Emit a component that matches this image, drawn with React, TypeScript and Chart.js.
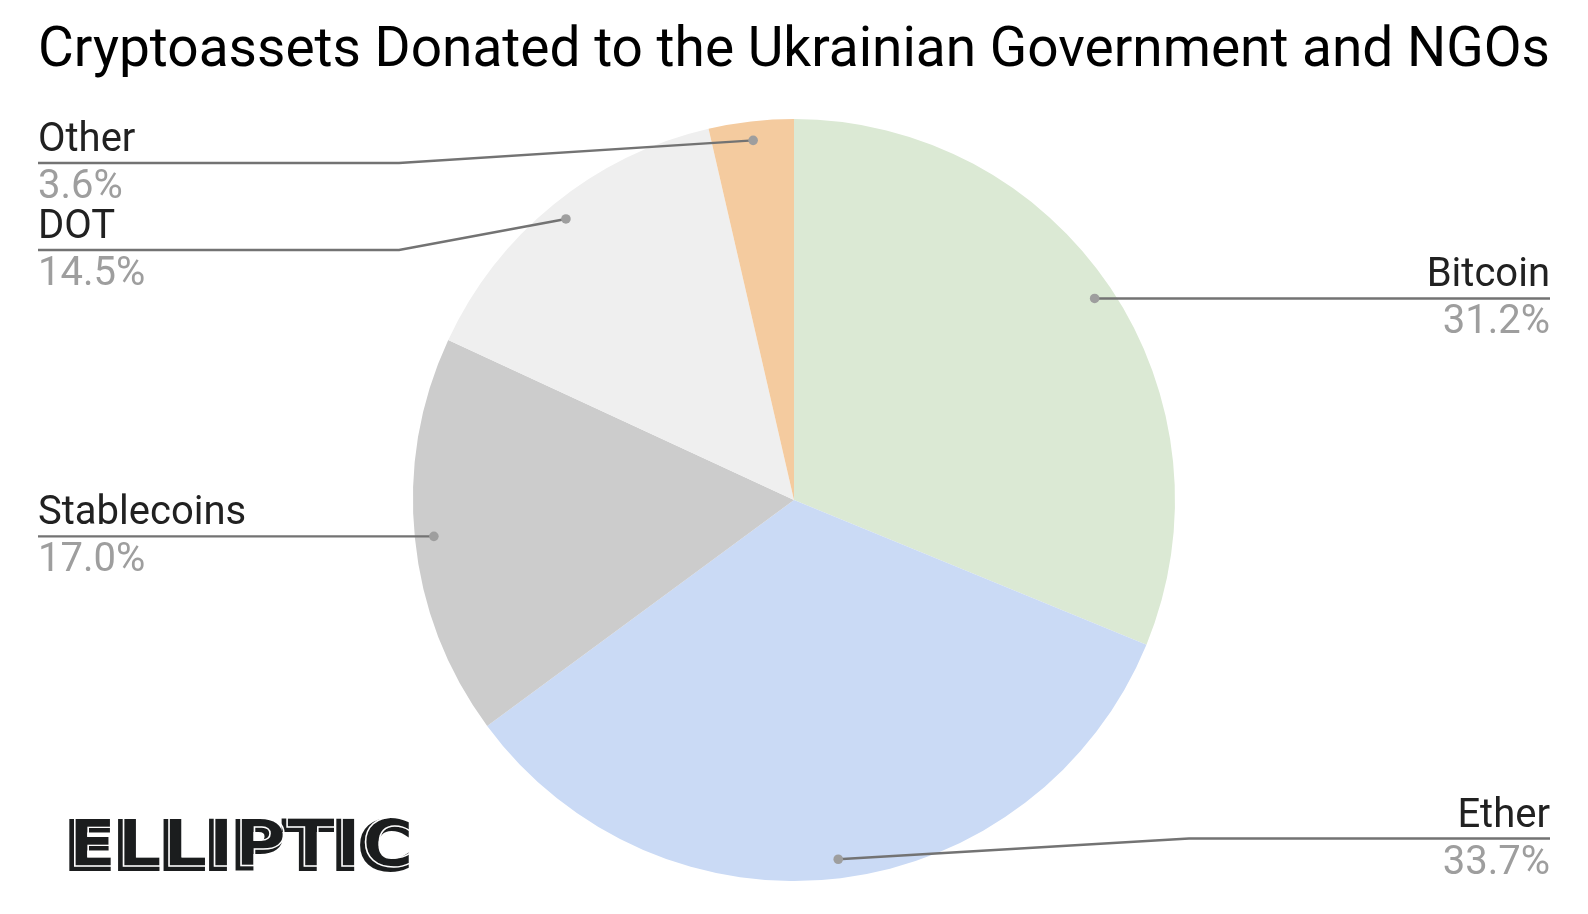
import React, { useEffect, useRef } from "react";
import { Chart, registerables } from "chart.js";

Chart.register(...registerables);

const TITLE = "Cryptoassets Donated to the Ukrainian Government and NGOs";
const categories = ["Bitcoin", "Ether", "Stablecoins", "DOT", "Other"];
const shares = [31.2, 33.7, 17.0, 14.5, 3.6];
const sliceColors = ["#dbe9d4", "#cadaf5", "#cccccc", "#efefef", "#f4cb9f"];
const LOGO = "ELLIPTIC";

const labelPlugin = {
  id: "calloutLabels",
  afterDraw(chart: any) {
    const ctx = chart.ctx as CanvasRenderingContext2D;
    const area = chart.chartArea;
    const meta = chart.getDatasetMeta(0);
    const ds = chart.data.datasets[0];

    // title
    ctx.save();
    ctx.fillStyle = "#000000";
    ctx.font = '55px Roboto';
    ctx.textAlign = "center";
    ctx.textBaseline = "alphabetic";
    ctx.fillText(TITLE, (area.left + area.right) / 2, 66);
    ctx.restore();

    type L = { i: number; dx: number; dy: number; side: number; ly: number; cx: number; r: number };
    const items: L[] = [];
    meta.data.forEach((arc: any, i: number) => {
      const p = arc.getProps(["x", "y", "startAngle", "endAngle", "outerRadius"], true);
      const mid = (p.startAngle + p.endAngle) / 2;
      const rr = p.outerRadius * 0.95;
      const dx = p.x + Math.cos(mid) * rr;
      const dy = p.y + Math.sin(mid) * rr;
      items.push({ i, dx, dy, side: Math.cos(mid) >= 0 ? 1 : -1, ly: dy, cx: p.x, r: p.outerRadius });
    });

    const minY = area.top + 44;
    const maxY = area.bottom - 42.5;
    const gap = 87;
    [1, -1].forEach((side) => {
      const list = items.filter((it) => it.side === side).sort((a, b) => a.dy - b.dy);
      let prev = -Infinity;
      list.forEach((it) => {
        let y = Math.min(Math.max(it.dy, minY), maxY);
        y = Math.max(y, prev + gap);
        it.ly = y;
        prev = y;
      });
      for (let k = list.length - 1; k >= 0; k--) {
        const lim = k === list.length - 1 ? maxY : list[k + 1].ly - gap;
        if (list[k].ly > lim) list[k].ly = lim;
      }
    });

    items.forEach((it) => {
      const elbowX = it.cx + it.side * (it.r + 14);
      const endX = it.side > 0 ? area.right : area.left;
      ctx.save();
      ctx.strokeStyle = "#737373";
      ctx.lineWidth = 2.4;
      ctx.beginPath();
      ctx.moveTo(it.dx, it.dy);
      if (Math.abs(it.ly - it.dy) > 0.5) ctx.lineTo(elbowX, it.ly);
      ctx.lineTo(endX, it.ly);
      ctx.stroke();
      ctx.fillStyle = "#9e9e9e";
      ctx.beginPath();
      ctx.arc(it.dx, it.dy, 4.8, 0, Math.PI * 2);
      ctx.fill();

      ctx.textAlign = it.side > 0 ? "right" : "left";
      ctx.textBaseline = "alphabetic";
      ctx.font = "40px Roboto";
      ctx.fillStyle = "#212121";
      ctx.fillText(String(chart.data.labels[it.i]), endX, it.ly - 12);
      ctx.fillStyle = "#9e9e9e";
      ctx.fillText(Number(ds.data[it.i]).toFixed(1) + "%", endX, it.ly + 35);
      ctx.restore();
    });

    // logo
    ctx.save();
    ctx.font = 'bold 64px "DejaVu Sans"';
    ctx.textBaseline = "alphabetic";
    ctx.textAlign = "left";
    ctx.lineJoin = "miter";
    const targetW = 346;
    const w = ctx.measureText(LOGO).width;
    ctx.translate(65, 869);
    ctx.scale(targetW / w, 1.03);
    ctx.fillStyle = "#1b1d1e";
    ctx.strokeStyle = "#1b1d1e";
    ctx.lineWidth = 4;
    ctx.strokeText(LOGO, 0, 0);
    ctx.fillText(LOGO, 0, 0);
    ctx.strokeStyle = "#ffffff";
    ctx.lineWidth = 1.4;
    ctx.strokeText(LOGO, 3, -3);
    ctx.restore();
  },
};

export default function App() {
  const ref = useRef<HTMLCanvasElement>(null);
  useEffect(() => {
    if (!ref.current) return;
    const chart = new Chart(ref.current, {
      type: "pie",
      data: {
        labels: categories,
        datasets: [
          {
            data: shares,
            backgroundColor: sliceColors,
            borderWidth: 0,
          },
        ],
      },
      options: {
        responsive: false,
        animation: false,
        layout: { padding: { left: 38, right: 38, top: 119, bottom: 33 } },
        plugins: {
          legend: { display: false },
          title: { display: false },
          tooltip: { enabled: false },
        },
      },
      plugins: [labelPlugin],
    });
    return () => chart.destroy();
  }, []);
  return (
    <div style={{ position: "fixed", left: 0, top: 0, width: 1588, height: 914, background: "#fff" }}>
      <canvas ref={ref} width={1588} height={914} style={{ width: 1588, height: 914, display: "block" }} />
    </div>
  );
}
